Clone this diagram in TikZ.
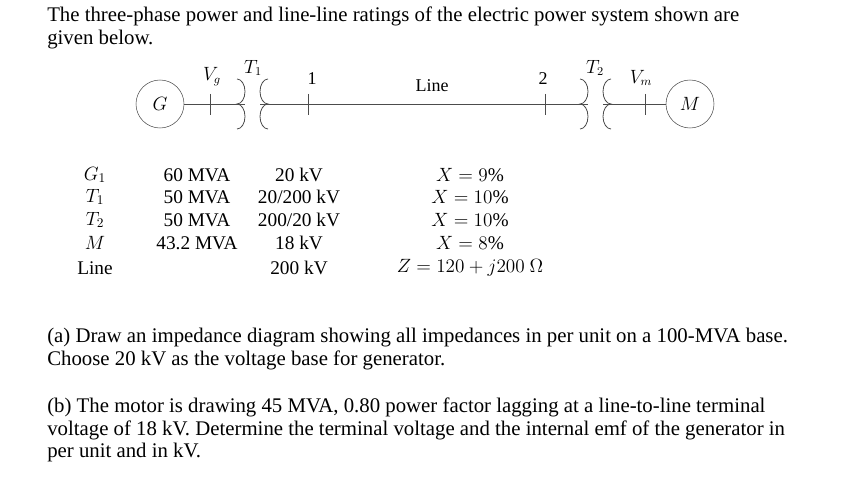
\documentclass[tikz,border=0pt]{standalone}
\usepackage{fontspec}
\setmainfont{Liberation Serif}
\begin{document}
\begin{tikzpicture}[x=0.75pt,y=-0.75pt,
  txt/.style={anchor=west,inner sep=0pt,font=\fontsize{15.6}{16.8}\selectfont,align=left},
  cell/.style={inner sep=0pt,font=\fontsize{14.5}{16}\selectfont},
  dl/.style={inner sep=0pt,font=\fontsize{13.5}{15}\selectfont},
  wire/.style={draw=black!70,line width=0.6pt}]
\useasboundingbox (0,0) rectangle (850,488);
\node[txt,anchor=north west] (t) at (47,7) {The three-phase power and line-line ratings of the electric power system shown are\\given below.};
% diagram
\node[circle,draw=black!70,minimum size=36,inner sep=0pt,font=\fontsize{13.5}{15}\selectfont\itshape] (G) at (160,104) {$G$};
\node[circle,draw=black!70,minimum size=36,inner sep=0pt,font=\fontsize{13.5}{15}\selectfont] (M) at (690,104) {$M$};
\coordinate (t1a) at (245,104); \coordinate (t1b) at (260,104);
\coordinate (t2a) at (588,104); \coordinate (t2b) at (603,104);
\draw[wire] (G.east) -- (t1a);
\draw[wire] (t1b) -- (t2a);
\draw[wire] (t2b) -- (M.west);
\draw[wire] (237,79) arc[start angle=-90,end angle=90,x radius=8,y radius=12.5] arc[start angle=-90,end angle=90,x radius=8,y radius=12.5];
\draw[wire] (268,79) arc[start angle=270,end angle=90,x radius=8,y radius=12.5] arc[start angle=270,end angle=90,x radius=8,y radius=12.5];
\draw[wire] (580,79) arc[start angle=-90,end angle=90,x radius=8,y radius=12.5] arc[start angle=-90,end angle=90,x radius=8,y radius=12.5];
\draw[wire] (611,79) arc[start angle=270,end angle=90,x radius=8,y radius=12.5] arc[start angle=270,end angle=90,x radius=8,y radius=12.5];
\foreach \x/\n in {210/vg,308/b1,545/b2,645/vm}{\draw[wire] (\x,94) -- (\x,115); \coordinate (\n) at (\x,94);}
\node[dl] (lvg) at (212,77) {$V_g$};
\node[dl] (lt1) at (253,68) {$T_1$};
\node[dl] (l1) at (312,79) {1};
\node[dl] (lline) at (432,86) {Line};
\node[dl] (l2) at (543,79) {2};
\node[dl] (lt2) at (595,68) {$T_2$};
\node[dl] (lvm) at (641,78) {$V_m$};
% table
\foreach \y/\a/\b/\c/\d in {175/{$G_1$}/{60 MVA}/{20 kV}/{$X=9\%$},197/{$T_1$}/{50 MVA}/{20/200 kV}/{$X=10\%$},220/{$T_2$}/{50 MVA}/{200/20 kV}/{$X=10\%$},243/{$M$}/{43.2 MVA}/{18 kV}/{$X=8\%$},268/{Line}/{}/{200 kV}/{$Z=120+j200\ \Omega$}}{
  \node[cell] at (95,\y) {\a};
  \node[cell] at (197,\y) {\b};
  \node[cell] at (299,\y) {\c};
  \node[cell] at (470,\y) {\d};
}
\node[txt,anchor=north west] (pa) at (47,328) {(a) Draw an impedance diagram showing all impedances in per unit on a 100-MVA base.\\Choose 20 kV as the voltage base for generator.};
\node[txt,anchor=north west] (pb) at (47,398) {(b) The motor is drawing 45 MVA, 0.80 power factor lagging at a line-to-line terminal\\voltage of 18 kV. Determine the terminal voltage and the internal emf of the generator in\\per unit and in kV.};
\end{tikzpicture}
\end{document}
